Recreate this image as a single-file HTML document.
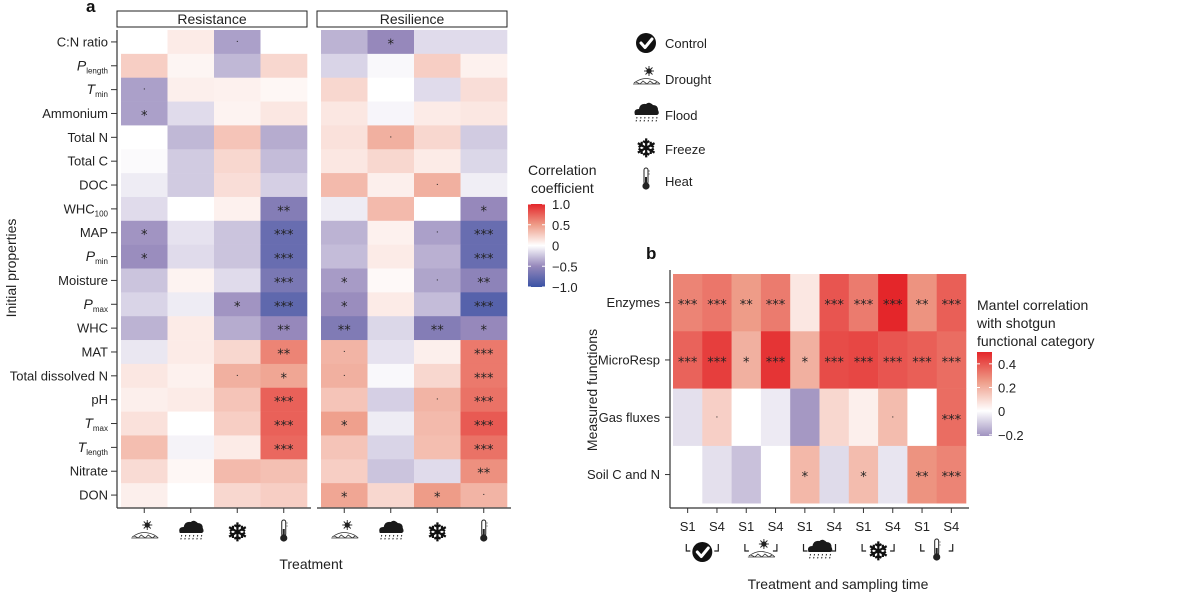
<!DOCTYPE html>
<html><head><meta charset="utf-8"><style>
body{margin:0;background:#fff;}
svg{display:block;font-family:"Liberation Sans",sans-serif;}
</style></head><body>
<svg id="c" width="1200" height="594" viewBox="0 0 1200 594">
<defs>
<g id="ic-drought"><circle cx="3" cy="-8" r="2.6" fill="#222"/><g stroke="#222" stroke-width="0.9"><line x1="3" y1="-13" x2="3" y2="-3"/><line x1="-2" y1="-8" x2="8" y2="-8"/><line x1="-0.5" y1="-11.5" x2="6.5" y2="-4.5"/><line x1="-0.5" y1="-4.5" x2="6.5" y2="-11.5"/></g><path d="M-12 4 Q-4 -2 4 0 Q10 1 14 5 M-10 3 l4 2 l3 -3 l4 3 l3 -3 l4 3 l3-2 M-13 5 H14" stroke="#333" stroke-width="0.8" fill="none"/></g>
<g id="ic-flood"><path d="M-11 0 Q-13 -6 -7 -6 Q-6 -12 0 -11 Q3 -14 7 -10 Q12 -10 12 -5 Q14 -1 11 0 Z" fill="#1a1a1a"/><g stroke="#222" stroke-width="1" stroke-dasharray="1.5 1.5"><line x1="-9" y1="2" x2="-10" y2="7"/><line x1="-5" y1="2" x2="-6" y2="7"/><line x1="-1" y1="2" x2="-2" y2="7"/><line x1="3" y1="2" x2="2" y2="7"/><line x1="7" y1="2" x2="6" y2="7"/><line x1="11" y1="2" x2="10" y2="7"/></g></g>
<g id="ic-freeze"><text x="0" y="8" text-anchor="middle" font-family="DejaVu Sans" font-size="25" font-weight="bold" fill="#111" stroke="#111" stroke-width="0.8">❄</text></g>
<g id="ic-heat"><rect x="-2" y="-13" width="4" height="16" rx="2" fill="#fff" stroke="#222" stroke-width="1"/><rect x="-1" y="-4" width="2" height="7" fill="#222"/><circle cx="0" cy="5" r="3.6" fill="#222"/><line x1="2.5" y1="-10" x2="4" y2="-10" stroke="#888"/><line x1="2.5" y1="-7" x2="4" y2="-7" stroke="#888"/></g>
<g id="ic-control"><circle cx="0" cy="0" r="10" fill="#111"/><path d="M-5 0 L-1 4.5 L6 -4" stroke="#fff" stroke-width="3" fill="none" stroke-linecap="round" stroke-linejoin="round"/></g>
<linearGradient id="gA" x1="0" y1="1" x2="0" y2="0"><stop offset="0" stop-color="#3a52a4"/><stop offset="0.25" stop-color="#9688bb"/><stop offset="0.5" stop-color="#fff"/><stop offset="0.75" stop-color="#ee9c88"/><stop offset="1" stop-color="#e4262a"/></linearGradient>
<linearGradient id="gB" x1="0" y1="1" x2="0" y2="0"><stop offset="0" stop-color="#a093c0"/><stop offset="0.3" stop-color="#fff"/><stop offset="0.65" stop-color="#ee9c88"/><stop offset="1" stop-color="#e4262a"/></linearGradient>
</defs>
</svg>
<script>
const rowLabels=["C:N ratio","P|length","T|min","Ammonium","Total N","Total C","DOC","WHC|100","MAP","P|min","Moisture","P|max","WHC","MAT","Total dissolved N","pH","T|max","T|length","Nitrate","DON"];
const treatments=["drought","flood","freeze","heat"];
const resistVals=[[0,0.1,-0.4,0],[0.25,0.05,-0.3,0.2],[-0.4,0.08,0.07,0.04],[-0.4,-0.15,0.06,0.12],[0,-0.3,0.3,-0.35],[-0.02,-0.22,0.2,-0.28],[-0.08,-0.22,0.17,-0.2],[-0.15,0,0.07,-0.6],[-0.45,-0.12,-0.25,-0.75],[-0.48,-0.15,-0.25,-0.75],[-0.25,0.06,-0.15,-0.65],[-0.18,-0.08,-0.45,-0.8],[-0.32,0.1,-0.35,-0.5],[-0.1,0.1,0.2,0.6],[0.12,0.07,0.4,0.45],[0.08,0.1,0.3,0.75],[0.15,0,0.25,0.75],[0.33,-0.05,0.1,0.72],[0.18,0.04,0.35,0.32],[0.08,0,0.2,0.25]];
const resistSig=[["","",".",""],["","","",""],[".","","",""],["*","","",""],["","","",""],["","","",""],["","","",""],["","","","**"],["*","","","***"],["*","","","***"],["","","","***"],["","","*","***"],["","","","**"],["","","","**"],["","",".","*"],["","","","***"],["","","","***"],["","","","***"],["","","",""],["","","",""]];
const resilVals=[[-0.32,-0.5,-0.15,-0.15],[-0.18,-0.03,0.25,0.07],[0.2,0,-0.15,0.17],[0.12,-0.04,0.1,0.12],[0.15,0.4,0.2,-0.22],[0.12,0.2,0.1,-0.17],[0.35,0.08,0.4,-0.07],[-0.08,0.35,0,-0.5],[-0.32,0.07,-0.4,-0.75],[-0.28,0.1,-0.33,-0.75],[-0.42,0.03,-0.38,-0.55],[-0.48,0.1,-0.28,-0.85],[-0.62,-0.17,-0.6,-0.5],[0.38,-0.12,0.08,0.65],[0.4,-0.03,0.2,0.65],[0.3,-0.2,0.38,0.68],[0.48,-0.08,0.35,0.78],[0.3,-0.18,0.33,0.68],[0.25,-0.25,-0.15,0.55],[0.45,0.2,0.5,0.38]];
const resilSig=[["","*","",""],["","","",""],["","","",""],["","","",""],["",".","",""],["","","",""],["","",".",""],["","","","*"],["","",".","***"],["","","","***"],["*","",".","**"],["*","","","***"],["**","","**","*"],[".","","","***"],[".","","","***"],["","",".","***"],["*","","","***"],["","","","***"],["","","","**"],["*","","*","."]];
const bRows=["Enzymes","MicroResp","Gas fluxes","Soil C and N"];
const bCols=["S1","S4","S1","S4","S1","S4","S1","S4","S1","S4"];
const bGroups=["control","drought","flood","freeze","heat"];
const bVals=[[0.3,0.33,0.25,0.32,0.06,0.4,0.32,0.5,0.27,0.38],[0.37,0.45,0.2,0.47,0.2,0.42,0.43,0.4,0.38,0.35],[-0.06,0.12,0,-0.04,-0.2,0.1,0.04,0.17,0,0.35],[0,-0.06,-0.12,0,0.18,-0.07,0.17,-0.05,0.27,0.3]];
const bSig=[["***","***","**","***","","***","***","***","**","***"],["***","***","*","***","*","***","***","***","***","***"],["",".","","","","","",".","","***"],["","","","","*","","*","","**","***"]];
const aTicks=["1.0","0.5","0","\u22120.5","\u22121.0"];
const aTickVals=[1,0.5,0,-0.5,-1];
const bTicks=["0.4","0.2","0","\u22120.2"];
const bTickVals=[0.4,0.2,0,-0.2];
const legendItems=[["control","Control"],["drought","Drought"],["flood","Flood"],["freeze","Freeze"],["heat","Heat"]];

const NS="http://www.w3.org/2000/svg";
const svg=document.getElementById('c');
function mk(tag,attrs,parent,text){const e=document.createElementNS(NS,tag);for(const k in attrs)e.setAttribute(k,attrs[k]);if(text!==undefined)e.textContent=text;(parent||svg).appendChild(e);return e;}
function lerp(a,b,t){return a.map((v,i)=>Math.round(v+(b[i]-v)*t));}
function interp(stops,v){for(let i=0;i<stops.length-1;i++){const [v0,c0]=stops[i],[v1,c1]=stops[i+1];if(v<=v1||i==stops.length-2){let t=(v-v0)/(v1-v0);t=Math.max(0,Math.min(1,t));const c=lerp(c0,c1,t);return `rgb(${c[0]},${c[1]},${c[2]})`;}}}
const stopsA=[[-1,[58,82,164]],[-0.5,[150,136,187]],[0,[255,255,255]],[0.5,[238,156,136]],[1,[228,38,42]]];
const stopsB=[[-0.21,[160,147,192]],[0,[255,255,255]],[0.25,[238,156,136]],[0.5,[228,38,42]]];
function sigText(parent,x,y,s){
  const dot=s==".";
  const tt=mk('text',{x:x,y:y+(dot?0:6.5),'text-anchor':'middle','font-size':dot?9:13,fill:'#222','font-family':'DejaVu Sans, sans-serif'},parent,s);
  
  
}

const rowY=r=>30+r*23.85, rowH=23.85;
const colW=46.5;
function panelA(x0,vals,sig,name,title){
  const g=mk('g',{});
  
  
  vals.forEach((row,r)=>row.forEach((v,c)=>{
    const rc=mk('rect',{x:x0+c*colW,y:rowY(r),width:colW+0.3,height:rowH+0.3,fill:interp(stopsA,v)},g);
    
    
    if(sig[r][c])sigText(g,x0+(c+0.5)*colW,rowY(r)+rowH/2,sig[r][c]);
  }));
  const s=mk('rect',{x:x0-4,y:11,width:4*colW+4,height:16,fill:'#fff',stroke:'#222','stroke-width':1},g);
  
  const st=mk('text',{x:x0+2*colW-2,y:24,'text-anchor':'middle','font-size':14,fill:'#222'},g,title);
  
  mk('line',{x1:x0-4,y1:508,x2:x0+4*colW+4,y2:508,stroke:'#333','stroke-width':1.2},g);
  treatments.forEach((t,c)=>{const cx=x0+(c+0.5)*colW;mk('line',{x1:cx,y1:508,x2:cx,y2:513,stroke:'#333'},g);
    const u=mk('use',{href:'#ic-'+t,x:cx,y:533},g);});
}
panelA(121,resistVals,resistSig,'resistance','Resistance');
panelA(321,resilVals,resilSig,'resilience','Resilience');
mk('line',{x1:117,y1:30,x2:117,y2:508,stroke:'#333','stroke-width':1.2});
rowLabels.forEach((l,r)=>{const y=rowY(r)+rowH/2;mk('line',{x1:111,y1:y,x2:117,y2:y,stroke:'#333'});
  const p=l.split('|');const t=mk('text',{x:108,y:y+4.5,'text-anchor':'end','font-size':13,fill:'#222'});
  
  if(p.length==1)t.textContent=l;else{const it=(p[0]=="P"||p[0]=="T");mk('tspan',it?{'font-style':'italic','font-size':14}:{},t,p[0]);mk('tspan',{'font-size':8,dy:3},t,p[1]);}
});
let t;
t=mk('text',{x:0,y:0,transform:'translate(16,268) rotate(-90)','text-anchor':'middle','font-size':14,fill:'#222'},svg,'Initial properties');
t=mk('text',{x:311,y:569,'text-anchor':'middle','font-size':14,fill:'#222'},svg,'Treatment');
t=mk('text',{x:86,y:12,'font-size':17,'font-weight':'bold',fill:'#111'},svg,'a');

t=mk('text',{x:528,y:175,'font-size':14,fill:'#222'},svg,'Correlation');
mk('text',{x:531,y:193,'font-size':14,fill:'#222'},svg,'coefficient');
const cbA=mk('rect',{x:528,y:204,width:17,height:83,fill:'url(#gA)'});
aTickVals.forEach((v,i)=>{const y=204+(1-v)/2*83;mk('line',{x1:528,y1:y,x2:531,y2:y,stroke:'#fff'});mk('line',{x1:542,y1:y,x2:545,y2:y,stroke:'#fff'});
  const tt=mk('text',{x:552,y:y+5,'font-size':13,fill:'#222'},svg,aTicks[i]);});

legendItems.forEach(([k,l],i)=>{const ys=[43,79,115,149,181];const u=mk('use',{href:'#ic-'+k,x:646,y:ys[i]});
  
  const tt=mk('text',{x:665,y:ys[i]+5,'font-size':13,fill:'#222'},svg,l);});

const bx0=673,bw=29.3,by0=274,bh=57.3;
t=mk('text',{x:646,y:259,'font-size':17,'font-weight':'bold',fill:'#111'},svg,'b');
bVals.forEach((row,r)=>row.forEach((v,c)=>{
  const rc=mk('rect',{x:bx0+c*bw,y:by0+r*bh,width:bw+0.3,height:bh+0.3,fill:interp(stopsB,v)});
  
  const s=bSig[r][c];if(s)sigText(svg,bx0+(c+0.5)*bw,by0+(r+0.5)*bh,s);
}));
mk('line',{x1:670,y1:270,x2:670,y2:508,stroke:'#333','stroke-width':1.2});
mk('line',{x1:670,y1:508,x2:969,y2:508,stroke:'#333','stroke-width':1.2});
bRows.forEach((l,r)=>{const y=by0+(r+0.5)*bh;mk('line',{x1:665,y1:y,x2:670,y2:y,stroke:'#333'});
  const tt=mk('text',{x:660,y:y+4.5,'text-anchor':'end','font-size':13,fill:'#222'},svg,l);});
bCols.forEach((l,c)=>{const x=bx0+(c+0.5)*bw;mk('line',{x1:x,y1:508,x2:x,y2:513,stroke:'#333'});
  const tt=mk('text',{x:x,y:531,'text-anchor':'middle','font-size':13,fill:'#222'},svg,l);});
bGroups.forEach((g,i)=>{const x=bx0+(2*i+1)*bw;
  mk('path',{d:`M${x-16} 544 V551 H${x-12} M${x+16} 544 V551 H${x+12}`,stroke:'#222',fill:'none','stroke-width':1.2});
  const u=mk('use',{href:'#ic-'+g,x:x,y:552});});
t=mk('text',{x:838,y:589,'text-anchor':'middle','font-size':14,fill:'#222'},svg,'Treatment and sampling time');
t=mk('text',{x:0,y:0,transform:'translate(597,390) rotate(-90)','text-anchor':'middle','font-size':14,fill:'#222'},svg,'Measured functions');
["Mantel correlation","with shotgun","functional category"].forEach((l,i)=>{const tt=mk('text',{x:977,y:310+i*18,'font-size':14,fill:'#222'},svg,l);});
const cbB=mk('rect',{x:977,y:352,width:15,height:84,fill:'url(#gB)'});
bTickVals.forEach((v,i)=>{const y=352+(0.5-v)/0.71*84;mk('line',{x1:977,y1:y,x2:980,y2:y,stroke:'#fff'});mk('line',{x1:989,y1:y,x2:992,y2:y,stroke:'#fff'});
  const tt=mk('text',{x:998,y:y+5,'font-size':13,fill:'#222'},svg,bTicks[i]);});
</script>
</body></html>
